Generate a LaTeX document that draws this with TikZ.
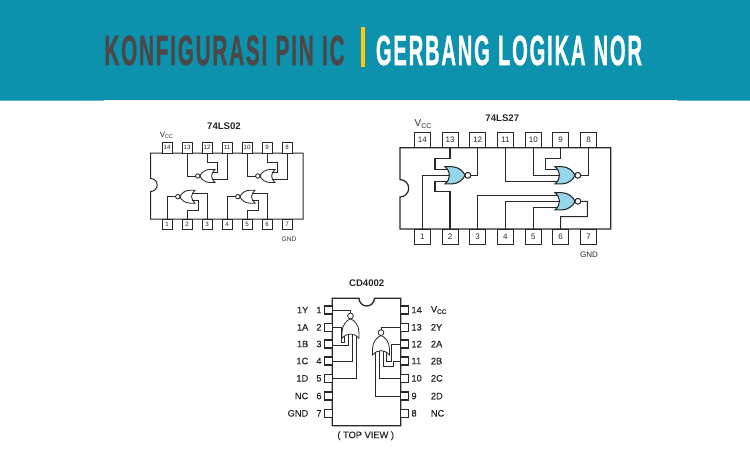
\documentclass[tikz,border=0pt]{standalone}
\usepackage{fontspec}
\usepackage{graphicx}
\setmainfont{Liberation Sans}
\usetikzlibrary{positioning, calc}
\definecolor{headteal}{RGB}{12, 146, 173}
\definecolor{headlight}{RGB}{95, 180, 200}
\definecolor{titlegray}{RGB}{77, 72, 72}
\definecolor{baryellow}{RGB}{255, 200, 10}
\definecolor{gateblue}{RGB}{150, 214, 234}
\definecolor{wiregray}{RGB}{40, 40, 40}
\newfontfamily\titlefont[LetterSpace=9,WordSpace=1.1,FakeBold=1.2]{Liberation Sans Bold}
\newfontfamily\labelfont[FakeBold=0.5]{Liberation Sans}
\tikzset{
  pinbox/.style={draw=wiregray, fill=white, inner sep=0pt, outer sep=0pt, text=wiregray},
  pinsmall/.style={pinbox, minimum width=10pt, minimum height=10.5pt, line width=0.8pt, font=\fontsize{6.2}{7}\selectfont},
  pinlarge/.style={pinbox, minimum width=16pt, minimum height=15pt, line width=1pt, font=\fontsize{8}{9}\selectfont},
  pinopen/.style={pinbox, minimum width=7.5pt, minimum height=8pt, line width=1.3pt},
  ictitle/.style={font=\bfseries\fontsize{9.6}{10}\selectfont, text=black!85},
  iclabel/.style={font=\labelfont\fontsize{9.3}{10}\selectfont, text=black!85, inner sep=0pt},
  pics/norgate/.style={code={
    \draw[fill=#1] (0,6.5) -- (5,6.5) .. controls (10,6.5) and (14,3) .. (15,0)
      .. controls (14,-3) and (10,-6.5) .. (5,-6.5) -- (0,-6.5)
      .. controls (4.5,-2.6) and (4.5,2.6) .. (0,6.5) -- cycle;
    \draw[fill=white] (17.2,0) circle[radius=2.2];
    \coordinate (-o) at (19.4,0);
    \coordinate (-a) at (2.6,3.25);
    \coordinate (-b) at (2.6,-3.25);
    \coordinate (-m) at (3.4,0);
    \coordinate (-p) at (2,-4.5);
    \coordinate (-q) at (3.1,-1.5);
    \coordinate (-r) at (3.1,1.5);
    \coordinate (-s) at (2,4.5);
  }},
  pics/norgate/.default=white
}

\begin{document}
\begin{tikzpicture}[x=1pt, y=-1pt]
  \useasboundingbox (0,0) rectangle (750,450);
  % header band
  \fill[headteal] (0,0) rectangle (750,100);
  \fill[headlight] (0,100) rectangle (104,101);
  \fill[headlight] (677,100) rectangle (750,101);
  \node[text=titlegray, font=\titlefont] (headleft) at (224.5,50.5) {\resizebox{240pt}{29.5pt}{KONFIGURASI PIN IC}};
  \node[text=white, font=\titlefont] (headright) at (509,50.5) {\resizebox{266pt}{29.5pt}{GERBANG LOGIKA NOR}};
  \fill[baryellow] (361,27) rectangle (365,67);

  % 74LS02
  \node[ictitle] (titlea) at (224,125.7) {74LS02};
  \draw[line width=1pt, wiregray] (150.7,153) -- (303,153) -- (303,219) -- (150.7,219) -- (150.7,191.5)
    arc (-90:90:6.5pt) -- cycle;
  \foreach \n/\x in {14/167,13/187,12/207,11/227,10/247,9/267,8/287}
    \node[pinsmall] (a\n) at (\x,147.7) {\n};
  \foreach \n/\x in {1/167,2/187,3/207,4/227,5/247,6/267,7/287}
    \node[pinsmall] (a\n) at (\x,224.3) {\n};
  \node[font=\fontsize{7.8}{8}\selectfont, text=wiregray] (vcca) at (166.7,135) {V\textsubscript{CC}};
  \node[font=\fontsize{6.6}{7}\selectfont, text=wiregray] (gnda) at (289,239) {GND};
  \begin{scope}[line width=0.85pt, draw=wiregray]
    \pic[rotate=180] (ga) at (215,176) {norgate};
    \pic[rotate=180] (gb) at (275,176) {norgate};
    \pic[rotate=180] (gc) at (195,196.7) {norgate};
    \pic[rotate=180] (gd) at (255,196.7) {norgate};
    \draw (a13.south) |- (ga-o);
    \draw (a12.south) -- ++(0,9.5) -- ++(10,0) |- (ga-a);
    \draw (a11.south) |- (ga-b);
    \draw (a10.south) |- (gb-o);
    \draw (a9.south) -- ++(0,9) -- ++(10.3,0) |- (gb-a);
    \draw (a8.south) |- (gb-b);
    \draw (a1.north) |- (gc-o);
    \draw (a3.north) |- (gc-a);
    \draw (a2.north) -- ++(0,-9) -- ++(11.3,0) |- (gc-b);
    \draw (a4.north) |- (gd-o);
    \draw (a6.north) |- (gd-a);
    \draw (a5.north) -- ++(0,-9) -- ++(11.3,0) |- (gd-b);
  \end{scope}

  % 74LS27
  \node[ictitle] (titleb) at (502.3,118.3) {74LS27};
  \draw[line width=1.2pt, wiregray] (400,147.7) -- (610.7,147.7) -- (610.7,229) -- (400,229) -- (400,197)
    arc (-90:90:8.7pt) -- cycle;
  \foreach \n/\x in {14/422.3,13/450,12/477.7,11/505.3,10/533.3,9/560.7,8/588.7}
    \node[pinlarge] (b\n) at (\x,140) {\n};
  \foreach \n/\x in {1/422.3,2/450,3/477.7,4/505.3,5/533.3,6/560.7,7/588.7}
    \node[pinlarge] (b\n) at (\x,236.7) {\n};
  \node[font=\fontsize{10}{11}\selectfont, text=wiregray] (vccb) at (423.3,124) {V\textsubscript{CC}};
  \node[font=\fontsize{8}{9}\selectfont, text=wiregray] (gndb) at (589,254.3) {GND};
  \begin{scope}[line width=1.05pt, draw=wiregray]
    \pic[scale=1.33] (ge) at (445,175.3) {norgate=gateblue};
    \pic[scale=1.33] (gf) at (555,175.3) {norgate=gateblue};
    \pic[scale=1.33] (gg) at (555,201.3) {norgate=gateblue};
    \draw (b12.south) |- (ge-o);
    \draw (b13.south) -- ++(0,10.7) -- ++(-15,0) |- (ge-p);
    \draw (b1.north) |- (ge-m);
    \draw (b2.north) -- ++(0,-38) -- ++(-15,0) |- (ge-s);
    \draw (b8.south) |- (gf-o);
    \draw (b9.south) -- ++(0,10.7) -- ++(-15,0) |- (gf-p);
    \draw (b10.south) |- (gf-m);
    \draw (b11.south) |- (gf-s);
    \draw (gg-o) -- ++(6.5,0) |- ++(-26.6,15.4) -- (b6.north);
    \draw (b3.north) |- (gg-p);
    \draw (b4.north) |- (gg-m);
    \draw (b5.north) |- (gg-s);
  \end{scope}

  % CD4002
  \node[ictitle] (titlec) at (366.7,283.3) {CD4002};
  \draw[line width=1.3pt, wiregray] (332.3,298.3) -- (359,298.3) arc (180:360:7.7pt) -- (400.7,298.3)
    -- (400.7,425.7) -- (332.3,425.7) -- cycle;
  \foreach \n/\y/\t in {1/310/1Y,2/327.3/1A,3/344/1B,4/361/1C,5/378.3/1D,6/396/NC,7/413.3/GND} {
    \node[pinopen] (c\n) at (328.5,\y) {};
    \node[iclabel, left=3pt of c\n] (cn\n) {\n};
    \node[iclabel, anchor=east] (ct\n) at (308.5,\y) {\t};
  }
  \foreach \n/\y/\t in {14/310/V\textsubscript{CC},13/327.3/2Y,12/344/2A,11/361/2B,10/378.3/2C,9/396/2D,8/413.3/NC} {
    \node[pinopen] (c\n) at (404.5,\y) {};
    \node[iclabel, right=3pt of c\n] (cn\n) {\n};
    \node[iclabel, anchor=west] (ct\n) at (430.7,\y) {\t};
  }
  \node[iclabel] (topview) at (365.7,435.7) {( TOP VIEW )};
  \begin{scope}[line width=0.8pt, draw=wiregray]
    \pic[rotate=90, scale=1.3] (gh) at (350.5,338.3) {norgate};
    \pic[rotate=90, scale=1.3] (gi) at (381,355) {norgate};
    \draw (c1.east) -| (gh-o);
    \draw (c2.east) -| ++(8.7,15.2) -| (gh-p);
    \draw ([yshift=-1.5pt]c3.east) -| (gh-q);
    \draw (c4.east) -| (gh-r);
    \draw (c5.east) -| (gh-s);
    \draw (c13.west) -| (gi-o);
    \draw (c12.west) -| ++(-9.7,17.7) -| (gi-s);
    \draw (c11.west) -| ++(-7,5) -| (gi-r);
    \draw (c10.west) -| (gi-q);
    \draw (c9.west) -| (gi-p);
  \end{scope}
\end{tikzpicture}
\end{document}
